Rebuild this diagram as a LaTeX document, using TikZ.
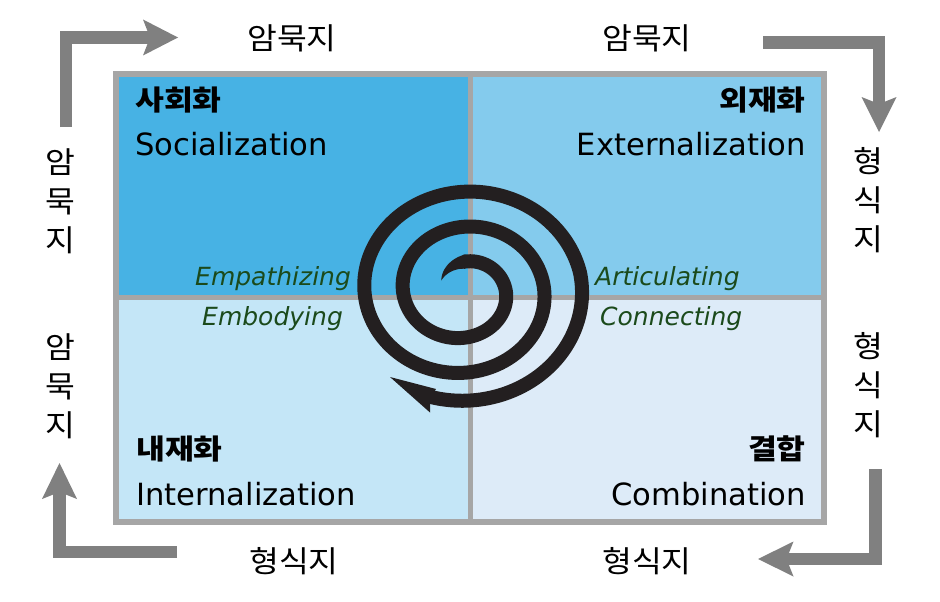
\documentclass[tikz,border=0pt]{standalone}
\usepackage{fontspec}
\setmainfont{DejaVu Sans}
\newfontfamily\kr[FakeStretch=1.08]{Noto Sans CJK KR}
\newfontfamily\krt[FakeStretch=1.12]{Noto Sans CJK KR}
\definecolor{qTL}{HTML}{47B2E4}
\definecolor{qTR}{HTML}{84CBED}
\definecolor{qBL}{HTML}{C4E6F7}
\definecolor{qBR}{HTML}{DDEBF8}
\definecolor{framegray}{HTML}{A6A6A6}
\definecolor{flowgray}{HTML}{808080}
\definecolor{ink}{HTML}{231F20}
\definecolor{verbgreen}{HTML}{1B4A1B}
\begin{document}
\begin{tikzpicture}[x=1pt,y=-1pt,
  flowshaft/.style={draw=flowgray, line width=12.5pt, line join=miter},
  flowhead/.style={fill=flowgray},
  side/.style={inner sep=0pt, font=\kr\fontsize{30}{39}\selectfont, align=center},
  ktitle/.style={inner sep=0pt, font=\krt\bfseries\fontsize{28}{28}\selectfont},
  etitle/.style={inner sep=0pt, font=\fontsize{30.6}{31}\selectfont},
  verbl/.style={inner sep=0pt, text=verbgreen, font=\itshape\fontsize{25}{25}\selectfont, anchor=base west},
  spiralline/.style={draw=ink, line width=14pt},
]
\useasboundingbox (0,0) rectangle (940,602);
\fill[white] (0,0) rectangle (940,602);

% quadrants
\fill[qTL] (116,74) rectangle (470,297.5);
\fill[qTR] (470,74) rectangle (824,297.5);
\fill[qBL] (116,297.5) rectangle (470,522);
\fill[qBR] (470,297.5) rectangle (824,522);
\draw[framegray, line width=5.5pt] (470.5,74) -- (470.5,522);
\draw[framegray, line width=5pt] (116,297.5) -- (824,297.5);
\draw[framegray, line width=6pt] (116,74) rectangle (824,522);

% titles
\node[ktitle, anchor=south west] (socK) at (135,113) {사회화};
\node[etitle, anchor=base west] (socE) at (135,155) {Socialization};
\node[ktitle, anchor=south east] (extK) at (806,113) {외재화};
\node[etitle, anchor=base east] (extE) at (806,155) {Externalization};
\node[ktitle, anchor=south west] (intK) at (136,462) {내재화};
\node[etitle, anchor=base west] (intE) at (136,505) {Internalization};
\node[ktitle, anchor=south east] (comK) at (806,462) {결합};
\node[etitle, anchor=base east] (comE) at (806,505) {Combination};

% verbs
\node[verbl] (emp) at (195,285) {Empathizing};
\node[verbl] (emb) at (202,325) {Embodying};
\node[verbl] (art) at (595,285) {Articulating};
\node[verbl] (con) at (600,325) {Connecting};

% side labels
\node[side] (topL) at (292,38) {암묵지};
\node[side] (topR) at (647,38) {암묵지};
\node[side] (botL) at (294,561) {형식지};
\node[side] (botR) at (647,561) {형식지};
\node[side] (leftA) at (60,201) {암\\묵\\지};
\node[side] (leftB) at (60,386) {암\\묵\\지};
\node[side] (rightA) at (868,200) {형\\식\\지};
\node[side] (rightB) at (868,385) {형\\식\\지};

% flow arrows
\coordinate (a1s) at (66,127);
\coordinate (a1c) at (66,37.5);
\coordinate (a1n) at (151,37.5);
\coordinate (a1t) at (178,37.5);
\coordinate (a1u) at (143,19.5);
\coordinate (a1d) at (143,55.5);
\draw[flowshaft] (a1s) -- (a1c) -- (a1n);
\fill[flowhead] (a1t) -- (a1u) -- (150,37.5) -- (a1d) -- cycle;

\coordinate (a2s) at (763,42.5);
\coordinate (a2c) at (879,42.5);
\coordinate (a2n) at (879,105);
\coordinate (a2t) at (879,132);
\coordinate (a2l) at (861.5,97);
\coordinate (a2r) at (896.5,97);
\draw[flowshaft] (a2s) -- (a2c) -- (a2n);
\fill[flowhead] (a2t) -- (a2l) -- (879,104) -- (a2r) -- cycle;

\coordinate (a3s) at (875.5,469);
\coordinate (a3c) at (875.5,559);
\coordinate (a3n) at (786,559);
\coordinate (a3t) at (758,559);
\coordinate (a3u) at (793.5,541.5);
\coordinate (a3d) at (793.5,576.5);
\draw[flowshaft] (a3s) -- (a3c) -- (a3n);
\fill[flowhead] (a3t) -- (a3u) -- (786.5,559) -- (a3d) -- cycle;

\coordinate (a4s) at (177,552);
\coordinate (a4c) at (59.5,552);
\coordinate (a4n) at (59.5,491);
\coordinate (a4t) at (59.5,463);
\coordinate (a4l) at (42,499);
\coordinate (a4r) at (77,499);
\draw[flowshaft] (a4s) -- (a4c) -- (a4n);
\fill[flowhead] (a4t) -- (a4l) -- (59.5,492) -- (a4r) -- cycle;

% spiral: tapered inner tail, main stroke, arrowhead
\fill[ink] plot[domain=-63:2,samples=30] ({464+1.1*(29.25+0.0972222*\x+7*(\x+63)/63)*sin(\x)},{291-(29.25+0.0972222*\x+7*(\x+63)/63)*cos(\x)})
  -- plot[domain=2:-63,samples=30] ({464+1.1*(29.25+0.0972222*\x-7*(\x+63)/63)*sin(\x)},{291-(29.25+0.0972222*\x-7*(\x+63)/63)*cos(\x)}) -- cycle;
\draw[spiralline] plot[domain=0:918,samples=320,smooth] ({464+1.1*(29.25+0.0972222*\x-0.07*max(0,\x-800))*sin(\x)},{291-(29.25+0.0972222*\x-0.07*max(0,\x-800))*cos(\x)});
\coordinate (spTip) at (390,377);
\coordinate (spU) at (436,389);
\coordinate (spN) at (430,399);
\coordinate (spD) at (430,412.5);
\fill[ink] (spTip) -- (spU) -- (spN) -- (spD) -- cycle;
\end{tikzpicture}
\end{document}
